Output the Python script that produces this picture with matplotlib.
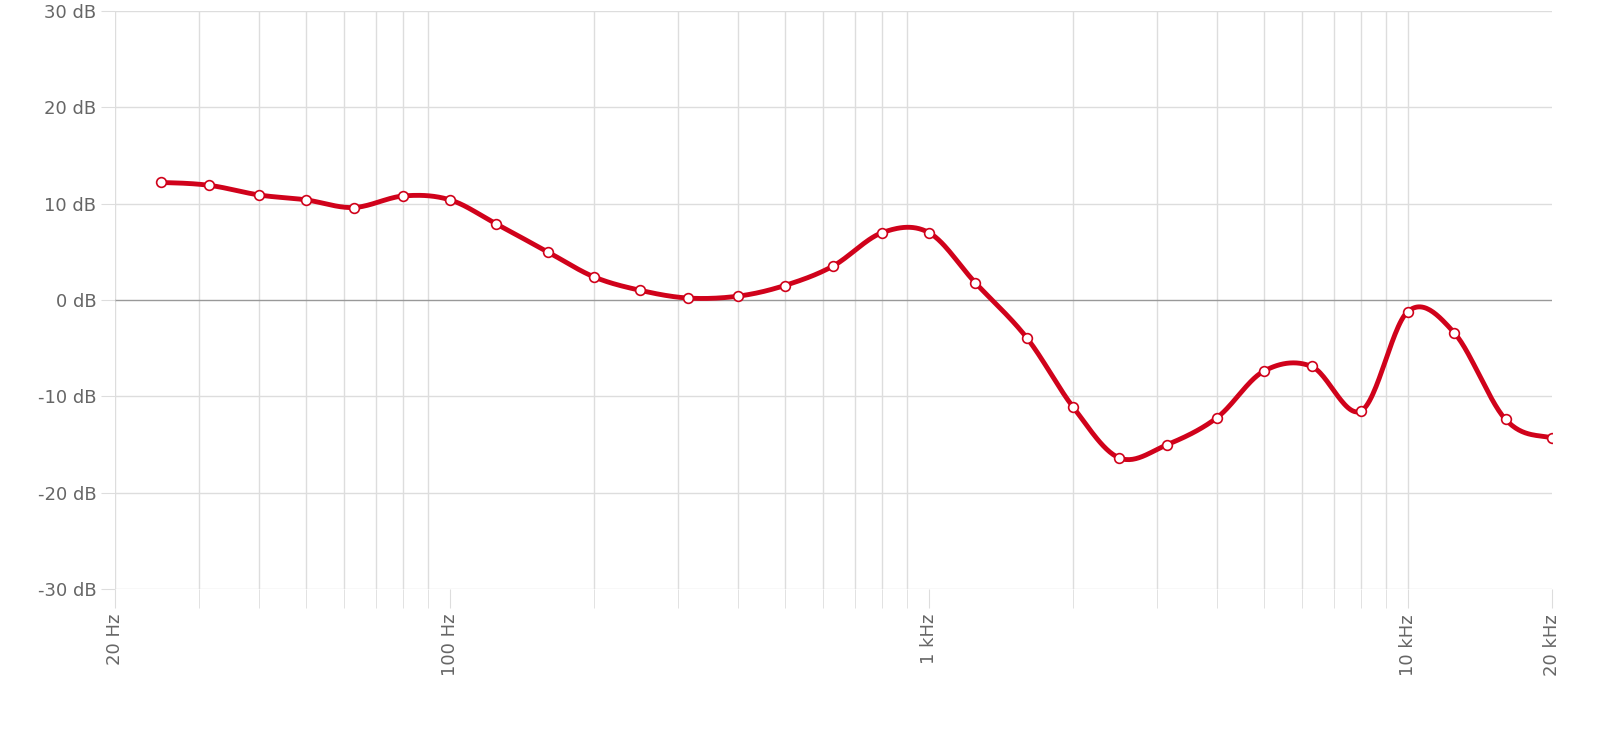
import numpy as np
import matplotlib
matplotlib.use("Agg")
import matplotlib.pyplot as plt
from matplotlib.ticker import FixedLocator, NullFormatter

freqs = [25, 31.5, 40, 50, 63, 80, 100, 125, 160, 200, 250, 315, 400, 500, 630,
         800, 1000, 1250, 1600, 2000, 2500, 3150, 4000, 5000, 6300, 8000, 10000,
         12500, 16000, 20000]
levels = [12.2, 11.9, 10.9, 10.4, 9.6, 10.8, 10.4, 7.9, 5.0, 2.4, 1.0, 0.2, 0.4, 1.5,
          3.5, 7.0, 7.0, 1.8, -3.9, -11.1, -16.4, -15.0, -12.2, -7.4, -6.9, -11.5,
          -1.2, -3.4, -12.4, -14.3]
major_ticks = [20, 100, 1000, 10000, 20000]
major_labels = ["20 Hz", "100 Hz", "1 kHz", "10 kHz", "20 kHz"]
y_ticks = [-30, -20, -10, 0, 10, 20, 30]

# Catmull-Rom smoothing in log-frequency space
lx = np.log10(freqs); ly = np.array(levels)
px = np.concatenate([[2*lx[0]-lx[1]], lx, [2*lx[-1]-lx[-2]]])
py = np.concatenate([[ly[0]], ly, [ly[-1]]])
sx, sy = [], []
t = np.linspace(0, 1, 30)
for i in range(1, len(px)-2):
    p0, p1, p2, p3 = [np.array([px[j], py[j]]) for j in (i-1, i, i+1, i+2)]
    for tt in t:
        pt = 0.5*((2*p1) + (-p0+p2)*tt + (2*p0-5*p1+4*p2-p3)*tt**2 + (-p0+3*p1-3*p2+p3)*tt**3)
        sx.append(pt[0]); sy.append(pt[1])

fig = plt.figure(figsize=(16, 7.35), dpi=100)
ax = fig.add_axes([115/1600, 1-589/735, (1552-115)/1600, (589-11)/735])
ax.set_xscale("log")
ax.set_xlim(20, 20000)
ax.set_ylim(-30, 30)

minor = [f*d for d in (10, 100, 1000) for f in range(2, 10)] + [10000]
minor = [m for m in minor if 20 <= m <= 20000]
for m in minor:
    ax.axvline(m, color="#dddddd", lw=1, zorder=0)
for yv in y_ticks:
    ax.axhline(yv, color="#999999" if yv == 0 else "#dddddd", lw=1, zorder=0)

ax.plot(10**np.array(sx), sy, color="#d0021b", lw=3.5, zorder=2, solid_capstyle="round")
ax.plot(freqs, levels, "o", ms=7, mfc="white", mec="#d0021b", mew=1.2, zorder=3)

ax.xaxis.set_major_locator(FixedLocator(major_ticks))
ax.set_xticklabels(major_labels, rotation=90, fontsize=13, color="#666666")
ax.xaxis.set_minor_locator(FixedLocator(minor))
ax.xaxis.set_minor_formatter(NullFormatter())
ax.tick_params(axis="x", which="both", length=14, color="#dddddd", pad=4)
ax.set_yticks(y_ticks)
ax.set_yticklabels([f"{v} dB" for v in y_ticks], fontsize=13, color="#666666")
ax.tick_params(axis="y", length=10, color="#dddddd")
for s in ax.spines.values():
    s.set_visible(False)
fig.savefig("out.png", dpi=100)
